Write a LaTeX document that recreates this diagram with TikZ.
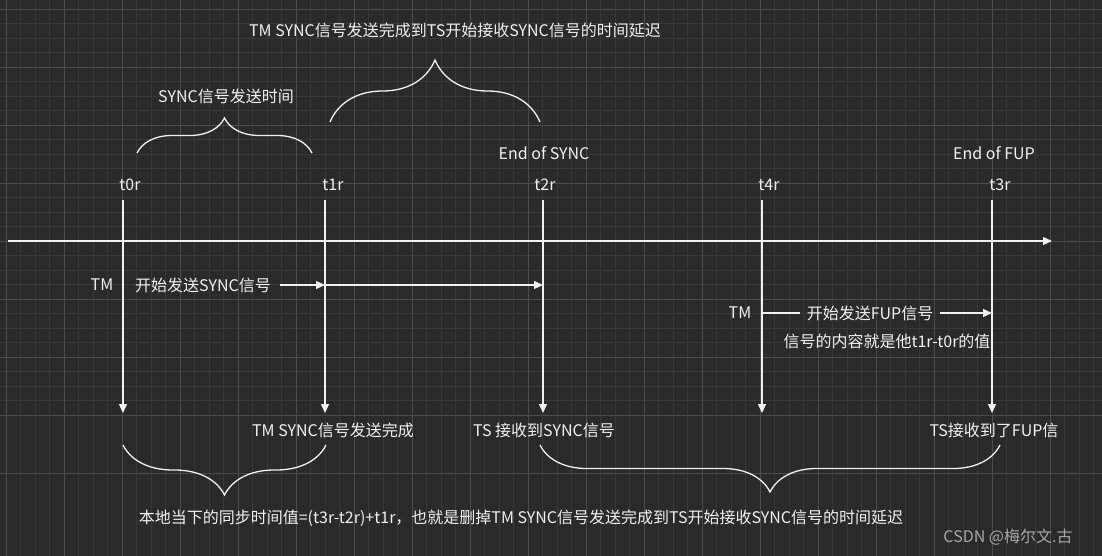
\documentclass[tikz,border=0pt]{standalone}
\usepackage{fontspec}
\setmainfont{Noto Sans CJK SC}
\usetikzlibrary{arrows.meta,decorations.pathreplacing}
\definecolor{bg}{HTML}{2A2A2A}
\definecolor{minorg}{HTML}{383838}
\definecolor{majorg}{HTML}{4C4C4C}
\definecolor{fg}{HTML}{F0F0F0}
\begin{document}
\begin{tikzpicture}[x=1pt,y=1pt,
  lbl/.style={text=fg,font=\fontsize{16}{19}\selectfont,inner sep=1pt},
  ln/.style={draw=fg,line width=1.3pt},
  arr/.style={ln,-{Triangle[length=9pt,width=8pt]}},
  brc/.style={ln,decorate,decoration={brace,amplitude=#1}}]
\useasboundingbox (0,0) rectangle (1102,-556);
\fill[bg] (0,0) rectangle (1102,-556);
\clip (0,0) rectangle (1102,-556);
\foreach \i in {-12,...,63}{
  \draw[minorg,line width=0.7pt] ({180+14.5*\i},0) -- ({180+14.5*\i},-556);
  \draw[minorg,line width=0.7pt] (0,{-241+14.5*\i}) -- (1102,{-241+14.5*\i});}
\foreach \i in {-4,...,16}{
  \draw[majorg,line width=0.9pt] ({180+58*\i},0) -- ({180+58*\i},-556);
  \draw[majorg,line width=0.9pt] (0,{-241+58*\i}) -- (1102,{-241+58*\i});}
% time axis
\coordinate (axs) at (8,-241); \coordinate (axe) at (1052,-241);
\draw[arr] (axs) -- (axe);
% time labels
\node[lbl] (t0) at (130,-185) {t0r};
\node[lbl] (t1) at (333,-185) {t1r};
\node[lbl] (t2) at (545,-185) {t2r};
\node[lbl] (t4) at (769,-185) {t4r};
\node[lbl] (t3) at (1000,-185) {t3r};
\node[lbl] (eos) at (544,-153) {End of SYNC};
\node[lbl] (eof) at (994,-153) {End of FUP};
% vertical lines
\coordinate (v0a) at (123,-200); \coordinate (v0b) at (123,-413);
\coordinate (v1a) at (325,-200); \coordinate (v1b) at (325,-413);
\coordinate (v2a) at (543,-200); \coordinate (v2b) at (543,-413);
\coordinate (v4a) at (762,-200); \coordinate (v4b) at (762,-413);
\coordinate (v3a) at (992,-200); \coordinate (v3b) at (992,-413);
\draw[arr] (v0a) -- (v0b);
\draw[arr] (v1a) -- (v1b);
\draw[arr] (v2a) -- (v2b);
\draw[arr] (v4a) -- (v4b);
\draw[arr] (v3a) -- (v3b);
% SYNC
\node[lbl] (tm1) at (102,-285) {TM};
\node[lbl] (s1) at (203,-285) {开始发送SYNC信号};
\coordinate (p1) at (325,-285); \coordinate (p2) at (543,-285);
\draw[arr] (s1.east) ++(8,0) coordinate (s1e) (s1e) -- (p1);
\draw[arr] (p1) -- (p2);
% FUP
\node[lbl] (tm2) at (740,-313) {TM};
\node[lbl] (f1) at (870,-313) {开始发送FUP信号};
\coordinate (q0) at (762,-313); \coordinate (q1) at (992,-313);
\draw[ln] (q0) -- ([xshift=-6pt]f1.west);
\draw[arr] ([xshift=6pt]f1.east) -- (q1);
\node[lbl] (f2) at (887,-341) {信号的内容就是他t1r-t0r的值};
% bottom labels
\node[lbl] (b1) at (333,-430) {TM SYNC信号发送完成};
\node[lbl] (b2) at (544,-430) {TS 接收到SYNC信号};
\node[lbl] (b3) at (994,-430) {TS接收到了FUP信};
% braces
\coordinate (ba) at (137,-153); \coordinate (bb) at (312,-153);
\draw[brc=35pt] (ba) -- (bb);
\node[lbl] (bl1) at (226,-96) {SYNC信号发送时间};
\coordinate (ca) at (330,-122); \coordinate (cb) at (540,-122);
\draw[brc=62pt] (ca) -- (cb);
\node[lbl] (bl2) at (455,-30) {TM SYNC信号发送完成到TS开始接收SYNC信号的时间延迟};
\coordinate (da) at (123,-445); \coordinate (db) at (326,-445);
\draw[brc=50pt,decoration={mirror}] (da) -- (db);
\coordinate (ea) at (540,-445); \coordinate (eb) at (1000,-445);
\draw[brc=47pt,decoration={mirror}] (ea) -- (eb);
\node[lbl] (bl3) at (521,-518) {本地当下的同步时间值=(t3r-t2r)+t1r，也就是删掉TM SYNC信号发送完成到TS开始接收SYNC信号的时间延迟};
\node[lbl,text=gray!70] (wm) at (1008,-537) {CSDN @梅尔文.古};
\end{tikzpicture}
\end{document}
